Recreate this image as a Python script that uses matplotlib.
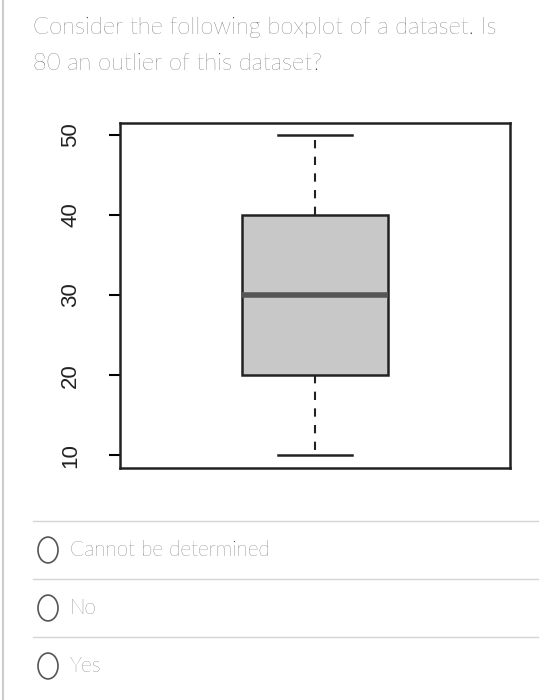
import matplotlib
matplotlib.use("Agg")
import matplotlib.pyplot as plt
from matplotlib.lines import Line2D
from matplotlib.patches import Circle

title_lines = ["Consider the following boxplot of a dataset. Is", "80 an outlier of this dataset?"]
stats = [dict(whislo=10, q1=20, med=30, q3=40, whishi=50, fliers=[], label="")]
yticks = [10, 20, 30, 40, 50]
options = ["Cannot be determined", "No", "Yes"]

W, H = 542, 700
fig = plt.figure(figsize=(W/100, H/100), dpi=100)
fig.patch.set_facecolor("white")

fig.add_artist(Line2D([3/W, 3/W], [0, 1], color="#cccccc", lw=1.5))

for i, t in enumerate(title_lines):
    fig.text(33/W, 1 - (27 + 36*i)/H, t, fontsize=17, family="Lato", weight="light",
             color="#333333", va="center")

ax = fig.add_axes([120/W, 1-468/H, 390/W, 345/H])
ax.bxp(stats, positions=[1], widths=0.374, patch_artist=True, showfliers=False,
       boxprops=dict(facecolor="#c8c8c8", edgecolor="#222222", lw=1.8),
       medianprops=dict(color="#555555", lw=4),
       whiskerprops=dict(color="#222222", lw=1.5, linestyle=(0, (4, 4))),
       capprops=dict(color="#222222", lw=1.8), capwidths=0.19)
ax.set_xlim(0.5, 1.5)
ax.set_ylim(8.4, 51.5)
ax.set_xticks([])
ax.set_yticks(yticks)
ax.set_yticklabels([str(v) for v in yticks], rotation=90, va="center", fontsize=16,
                   family="Liberation Sans", color="#222222")
ax.tick_params(axis="y", length=8, width=1.5, pad=20)
for s in ax.spines.values():
    s.set_linewidth(1.8)
    s.set_color("#222222")

for yy in [521, 579, 637]:
    fig.add_artist(Line2D([33/W, 538/W], [1-yy/H]*2, color="#d5d5d5", lw=1))

for i, o in enumerate(options):
    yc = 550 + 58*i
    fig.add_artist(Circle((48/W, 1-yc/H), 10/W, transform=fig.transFigure, fill=False,
                          edgecolor="#555555", lw=1.2))
    fig.text(70/W, 1-yc/H, o, fontsize=15, family="Lato", weight="light",
             color="#333333", va="center")

fig.savefig("out.png", dpi=100)
